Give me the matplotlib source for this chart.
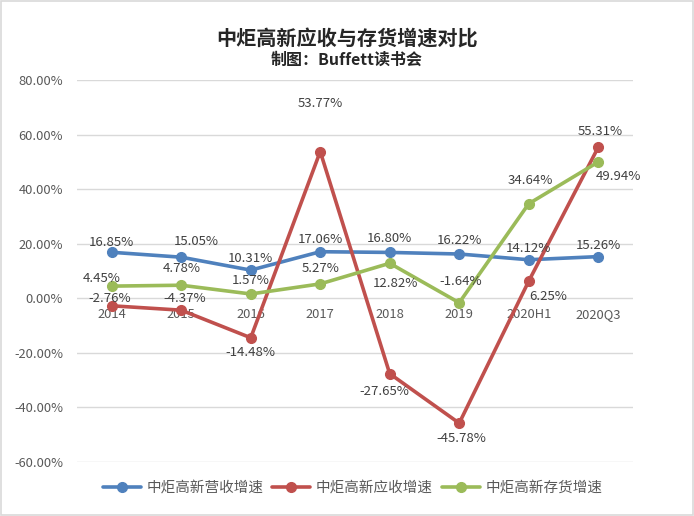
import numpy as np
import matplotlib
matplotlib.use("Agg")
import matplotlib.pyplot as plt
from matplotlib.patches import Rectangle
from matplotlib.ticker import FuncFormatter

plt.rcParams['font.family'] = ['Noto Sans CJK SC', 'DejaVu Sans']

# ─── Data ────────────────────────────────────────────────────────────────────
periods = ['2014', '2015', '2016', '2017', '2018', '2019', '2020H1', '2020Q3']
revenue_growth = [16.85, 15.05, 10.31, 17.06, 16.80, 16.22, 14.12, 15.26]
receivable_growth = [-2.76, -4.37, -14.48, 53.77, -27.65, -45.78, 6.25, 55.31]
inventory_growth = [4.45, 4.78, 1.57, 5.27, 12.82, -1.64, 34.64, 49.94]
series_names = ['中炬高新营收增速', '中炬高新应收增速', '中炬高新存货增速']
colors = ['#4F81BD', '#C0504D', '#9BBB59']

# label offsets in pixels (dx, dy) relative to each point
rev_off = [(0, 10), (15, 16), (0, 12), (0, 12), (0, 14), (0, 14), (0, 11), (0, 11)]
rec_off = [(-2, 7), (3, 12), (0, -15), (0, 48), (-5, -18), (2, -15), (19, -15), (2, 16)]
inv_off = [(-10, 8), (0, 17), (0, 13), (0, 15), (6, -20), (1, 21), (2, 23), (20, -15)]

text_color = '#595959'

fig = plt.figure(figsize=(6.94, 5.16), dpi=100)
fig.patches.append(Rectangle((0.002, 0.002), 0.996, 0.996, transform=fig.transFigure,
                             fill=False, edgecolor='#d9d9d9', linewidth=1.2))
ax = fig.add_axes([0.111, 0.1047, 0.801, 0.7403])

x = np.arange(len(periods))
all_series = [revenue_growth, receivable_growth, inventory_growth]
all_offsets = [rev_off, rec_off, inv_off]
for vals, name, c in zip(all_series, series_names, colors):
    ax.plot(x, vals, color=c, linewidth=2.6, marker='o', markersize=7, label=name,
            solid_capstyle='round')

for vals, offs in zip(all_series, all_offsets):
    for xi, v, (dx, dy) in zip(x, vals, offs):
        ax.annotate(f'{v:.2f}%', (xi, v), xytext=(dx, dy), textcoords='offset pixels',
                    ha='center', va='center', fontsize=9.5, color='#404040')

ax.set_xlim(-0.5, len(periods) - 0.5)
ax.set_ylim(-60, 80)
ax.set_yticks(np.arange(-60, 81, 20))
ax.yaxis.set_major_formatter(FuncFormatter(lambda v, p: f'{v:.2f}%'))
ax.set_xticks(x)
ax.set_xticklabels(periods)
ax.spines['bottom'].set_position(('data', 0))
for s in ax.spines.values():
    s.set_visible(False)
ax.tick_params(axis='both', length=0, colors=text_color, labelsize=9.3)
ax.tick_params(axis='x', pad=7)
ax.tick_params(axis='y', pad=10)
ax.grid(axis='y', color='#d9d9d9', linewidth=1)
ax.set_axisbelow(True)

fig.text(0.5, 0.925, '中炬高新应收与存货增速对比', ha='center', va='center',
         fontsize=14.5, fontweight='bold', color='#262626')
fig.text(0.5, 0.884, '制图：Buffett读书会', ha='center', va='center',
         fontsize=11.5, fontweight='bold', color='#262626')

fig.legend(loc='center', bbox_to_anchor=(0.508, 0.054), ncol=3, frameon=False,
           fontsize=10.5, labelcolor=text_color, handlelength=2.6, columnspacing=0.6,
           handletextpad=0.4)

fig.savefig('out.png', dpi=100)
